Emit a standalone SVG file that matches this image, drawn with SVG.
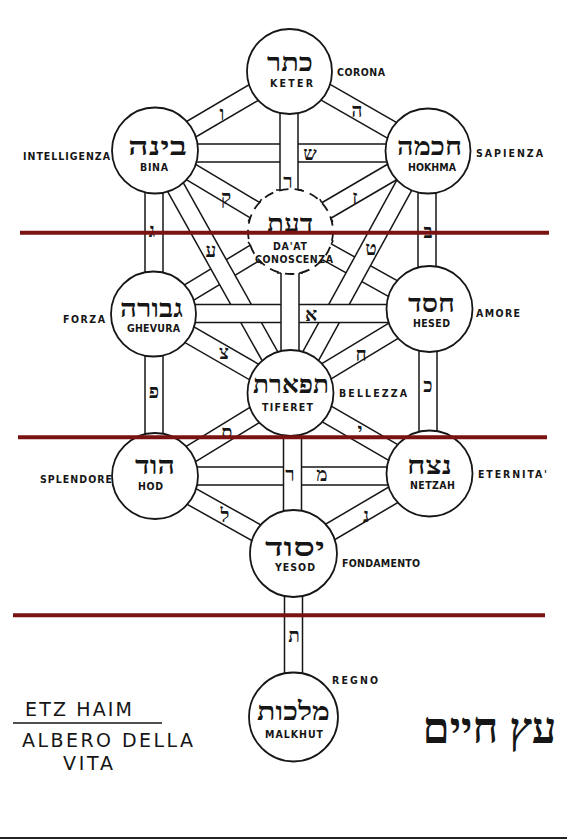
<svg xmlns="http://www.w3.org/2000/svg" width="567" height="839" viewBox="0 0 567 839">
<style>
.cb{stroke:#161616;stroke-width:19.5;fill:none}
.cw{stroke:#fff;stroke-width:16.5;fill:none}
.node{fill:#fff;stroke:#161616;stroke-width:1.8}
.daat{fill:#fff;stroke:#161616;stroke-width:1.8;stroke-dasharray:9.5 6.2}
.tick{stroke:#161616;stroke-width:1.6;fill:none}
.lat{font-family:"DejaVu Sans Condensed","Liberation Sans",sans-serif;font-weight:bold;font-size:10.5px;fill:#161616}
.heb{font-family:"Liberation Serif","DejaVu Serif",serif;font-weight:bold;font-size:26px;fill:#161616;text-anchor:middle}
.let{font-family:"Liberation Serif","DejaVu Serif",serif;font-weight:bold;font-size:19px;fill:#161616;text-anchor:middle}
.title{font-family:"DejaVu Sans","Liberation Sans",sans-serif;font-size:19px;fill:#161616}
.red{stroke:#7a1212;stroke-width:4}
</style>
<rect width="567" height="839" fill="#fff"/>
<g id="connectors">
<line class="cb" x1="289.5" y1="71.5" x2="155" y2="150.5"/><line class="cw" x1="289.5" y1="71.5" x2="155" y2="150.5"/>
<line class="cb" x1="289.5" y1="71.5" x2="428" y2="151"/><line class="cw" x1="289.5" y1="71.5" x2="428" y2="151"/>
<line class="cb" x1="155" y1="153" x2="428" y2="153"/><line class="cw" x1="155" y1="153" x2="428" y2="153"/>
<line class="cb" x1="289" y1="71.5" x2="289" y2="190"/><line class="cw" x1="289" y1="71.5" x2="289" y2="190"/>
<line class="cb" x1="155" y1="150.5" x2="254.9" y2="210.2"/><line class="cw" x1="155" y1="150.5" x2="254.9" y2="210.2"/>
<line class="cb" x1="428" y1="151" x2="326.3" y2="210.5"/><line class="cw" x1="428" y1="151" x2="326.3" y2="210.5"/>
<line class="cb" x1="154" y1="150.5" x2="154" y2="314"/><line class="cw" x1="154" y1="150.5" x2="154" y2="314"/>
<line class="cb" x1="427" y1="151" x2="427" y2="309"/><line class="cw" x1="427" y1="151" x2="427" y2="309"/>
<line class="cb" x1="254.9" y1="252.9" x2="153.5" y2="314"/><line class="cw" x1="254.9" y1="252.9" x2="153.5" y2="314"/>
<line class="cb" x1="326.8" y1="251.7" x2="429.5" y2="309"/><line class="cw" x1="326.8" y1="251.7" x2="429.5" y2="309"/>
<line class="cb" x1="155" y1="150.5" x2="290.5" y2="393"/><line class="cw" x1="155" y1="150.5" x2="290.5" y2="393"/>
<line class="cb" x1="423" y1="151" x2="290.5" y2="393"/><line class="cw" x1="423" y1="151" x2="290.5" y2="393"/>
<line class="cb" x1="153.5" y1="313.5" x2="429.5" y2="313.5"/><line class="cw" x1="153.5" y1="313.5" x2="429.5" y2="313.5"/>
<line class="cb" x1="290" y1="273" x2="290" y2="393"/><line class="cw" x1="290" y1="273" x2="290" y2="393"/>
<line class="cb" x1="153.5" y1="314" x2="290.5" y2="393"/><line class="cw" x1="153.5" y1="314" x2="290.5" y2="393"/>
<line class="cb" x1="429.5" y1="309" x2="290.5" y2="393"/><line class="cw" x1="429.5" y1="309" x2="290.5" y2="393"/>
<line class="cb" x1="154" y1="314" x2="154" y2="476"/><line class="cw" x1="154" y1="314" x2="154" y2="476"/>
<line class="cb" x1="428" y1="309" x2="428" y2="473.5"/><line class="cw" x1="428" y1="309" x2="428" y2="473.5"/>
<line class="cb" x1="290.5" y1="393" x2="155" y2="476"/><line class="cw" x1="290.5" y1="393" x2="155" y2="476"/>
<line class="cb" x1="290.5" y1="393" x2="429.5" y2="473.5"/><line class="cw" x1="290.5" y1="393" x2="429.5" y2="473.5"/>
<line class="cb" x1="155" y1="476" x2="429.5" y2="476"/><line class="cw" x1="155" y1="476" x2="429.5" y2="476"/>
<line class="cb" x1="292.5" y1="393" x2="292.5" y2="553.5"/><line class="cw" x1="292.5" y1="393" x2="292.5" y2="553.5"/>
<line class="cb" x1="155" y1="476" x2="293.5" y2="553.5"/><line class="cw" x1="155" y1="476" x2="293.5" y2="553.5"/>
<line class="cb" x1="429.5" y1="473.5" x2="293.5" y2="553.5"/><line class="cw" x1="429.5" y1="473.5" x2="293.5" y2="553.5"/>
<line class="cb" x1="293.5" y1="553.5" x2="293.5" y2="717"/><line class="cw" x1="293.5" y1="553.5" x2="293.5" y2="717"/>
<g class="let">
<text x="222" y="120">ו</text>
<text x="357" y="117">ה</text>
<text x="310" y="160">ש</text>
<text x="288" y="188">ר</text>
<text x="226" y="204">ק</text>
<text x="355" y="204">ז</text>
<text x="152" y="237">ג</text>
<text x="428" y="238">ב</text>
<text x="211" y="257">ע</text>
<text x="371" y="255">ט</text>
<text x="311" y="321">א</text>
<text x="224" y="359">צ</text>
<text x="361" y="361">ח</text>
<text x="154" y="398">פ</text>
<text x="428" y="392">כ</text>
<text x="227" y="439">ס</text>
<text x="360" y="437">י</text>
<text x="290" y="481">ר</text>
<text x="322" y="481">מ</text>
<text x="225" y="522">ל</text>
<text x="366" y="522">נ</text>
<text x="294" y="642">ת</text>
</g>
</g>
<g id="keter"><circle class="node" cx="289.5" cy="71.5" r="42.5"/><text class="heb" x="290" y="71" textLength="46" lengthAdjust="spacingAndGlyphs">כתר</text><text class="lat" x="270" y="87" textLength="43" lengthAdjust="spacing">KETER</text><text class="lat" x="337" y="76" textLength="48" lengthAdjust="spacing">CORONA</text></g>
<g id="bina"><circle class="node" cx="155" cy="150.5" r="43"/><text class="heb" x="157.5" y="155" textLength="59" lengthAdjust="spacingAndGlyphs">בינה</text><text class="lat" x="140" y="170.5" textLength="28" lengthAdjust="spacing">BINA</text><text class="lat" x="23" y="160" textLength="87" lengthAdjust="spacing">INTELLIGENZA</text></g>
<g id="hokhma"><circle class="node" cx="428" cy="151" r="42.5"/><text class="heb" x="429.5" y="155" textLength="65" lengthAdjust="spacingAndGlyphs">חכמה</text><text class="lat" x="408" y="170.5" textLength="48" lengthAdjust="spacing">HOKHMA</text><text class="lat" x="476" y="157" textLength="67" lengthAdjust="spacing">SAPIENZA</text></g>
<g id="daat"><circle class="daat" cx="290.5" cy="231.5" r="42.5"/>
<path class="tick" d="M280,190 H276 M298,190 H302 M250.3,217.9 L248.2,221.3 M259.5,202.5 L261.6,199.1 M330.8,218.3 L332.8,221.8 M321.8,202.7 L319.8,199.2 M259.5,260.6 L261.6,264 M250.3,245.2 L248.2,241.8 M322.3,259.5 L320.4,263 M331.3,243.9 L333.2,240.4 M281,273 H277 M299,273 H303"/>
<text class="heb" x="290" y="232" textLength="46" lengthAdjust="spacingAndGlyphs">דעת</text><text class="lat" x="273" y="250" textLength="34" lengthAdjust="spacing">DA'AT</text><text class="lat" x="255" y="263" textLength="78" lengthAdjust="spacing">CONOSCENZA</text></g>
<g id="ghevura"><circle class="node" cx="153.5" cy="314" r="42.5"/><text class="heb" x="151.5" y="317" textLength="63" lengthAdjust="spacingAndGlyphs">גבורה</text><text class="lat" x="127" y="331.5" textLength="53" lengthAdjust="spacing">GHEVURA</text><text class="lat" x="63" y="323" textLength="42" lengthAdjust="spacing">FORZA</text></g>
<g id="hesed"><circle class="node" cx="429.5" cy="309" r="43"/><text class="heb" x="431.5" y="312" textLength="47" lengthAdjust="spacingAndGlyphs">חסד</text><text class="lat" x="413" y="326.5" textLength="37" lengthAdjust="spacing">HESED</text><text class="lat" x="476" y="317" textLength="44" lengthAdjust="spacing">AMORE</text></g>
<g id="tiferet"><circle class="node" cx="290.5" cy="393" r="43"/><text class="heb" x="291" y="393" textLength="76" lengthAdjust="spacingAndGlyphs">תפארת</text><text class="lat" x="262" y="410.5" textLength="51" lengthAdjust="spacing">TIFERET</text><text class="lat" x="339" y="397" textLength="68" lengthAdjust="spacing">BELLEZZA</text></g>
<g id="hod"><circle class="node" cx="155" cy="476" r="43"/><text class="heb" x="155" y="474" textLength="40" lengthAdjust="spacingAndGlyphs">הוד</text><text class="lat" x="138" y="489.5" textLength="25" lengthAdjust="spacing">HOD</text><text class="lat" x="40" y="483" textLength="72" lengthAdjust="spacing">SPLENDORE</text></g>
<g id="netzah"><circle class="node" cx="429.5" cy="473.5" r="43"/><text class="heb" x="429.5" y="474" textLength="45" lengthAdjust="spacingAndGlyphs">נצח</text><text class="lat" x="410" y="488.5" textLength="45" lengthAdjust="spacing">NETZAH</text><text class="lat" x="478" y="478" textLength="69" lengthAdjust="spacing">ETERNITA'</text></g>
<g id="yesod"><circle class="node" cx="293.5" cy="553.5" r="43.5"/><text class="heb" x="295" y="555.5" textLength="60" lengthAdjust="spacingAndGlyphs">יסוד</text><text class="lat" x="275" y="571" textLength="40" lengthAdjust="spacing">YESOD</text><text class="lat" x="342" y="567" textLength="78" lengthAdjust="spacing">FONDAMENTO</text></g>
<g id="malkhut"><circle class="node" cx="293.5" cy="717" r="44.5"/><text class="heb" x="293.5" y="720" textLength="73" lengthAdjust="spacingAndGlyphs">מלכות</text><text class="lat" x="265" y="737.5" textLength="58" lengthAdjust="spacing">MALKHUT</text><text class="lat" x="332" y="684" textLength="46" lengthAdjust="spacing">REGNO</text></g>
<g id="title">
<text class="title" x="25" y="716" textLength="107" lengthAdjust="spacing">ETZ HAIM</text>
<line x1="13" y1="723" x2="162" y2="723" stroke="#161616" stroke-width="1.5"/>
<text class="title" x="22" y="747" textLength="171" lengthAdjust="spacing">ALBERO DELLA</text>
<text class="title" x="63" y="770" textLength="50" lengthAdjust="spacing">VITA</text>
<text x="489.5" y="743" font-family="Liberation Serif, DejaVu Serif, serif" font-size="44" font-weight="bold" fill="#161616" text-anchor="middle" textLength="134" lengthAdjust="spacingAndGlyphs">עץ חיים</text>
</g>
<g id="bands">
<line class="red" x1="20" y1="232.7" x2="549" y2="232.7"/>
<line class="red" x1="18" y1="437.3" x2="547" y2="437.3"/>
<line class="red" x1="13" y1="615.3" x2="545" y2="615.3"/>
<rect x="0" y="837" width="567" height="2" fill="#222"/>
</g>
</svg>
